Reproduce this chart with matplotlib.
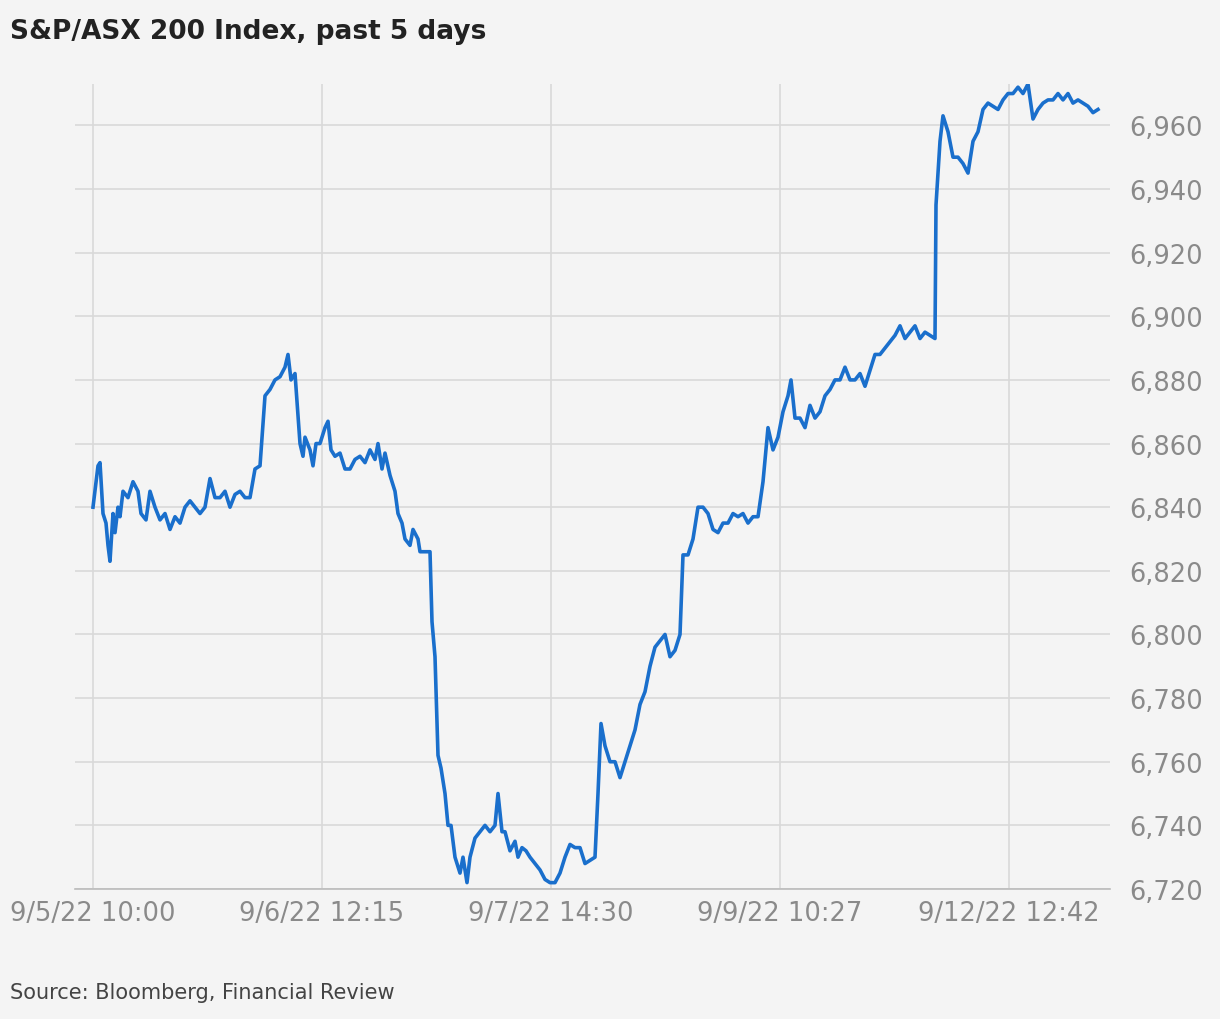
import matplotlib.pyplot as plt

# elapsed time units (one trading-day tick = 229 units) and index level
t = [0, 5, 7, 10, 13, 15, 17, 20, 22, 25, 27, 30, 35, 40, 45, 48, 53, 57, 62, 67, 72, 77, 82, 87,
     92, 97, 102, 107, 112, 117, 122, 127, 132, 137, 142, 147, 152, 157, 162, 167, 172, 177, 182,
     187, 192, 195, 198, 202, 207, 210, 212, 217, 220, 223, 227, 232, 235, 238, 242, 247, 252,
     257, 262, 267, 272, 277, 282, 285, 289, 292, 297, 302, 305, 309, 312, 317, 320, 325, 327,
     332, 337, 339, 342, 345, 348, 352, 355, 358, 362, 367, 370, 374, 377, 382, 387, 392, 397,
     402, 405, 409, 412, 417, 422, 425, 429, 433, 437, 442, 447, 452, 457, 462, 467, 472, 477,
     482, 487, 492, 497, 502, 505, 508, 512, 517, 522, 527, 532, 537, 542, 547, 552, 557, 562,
     567, 572, 577, 582, 587, 590, 595, 600, 605, 610, 615, 620, 625, 630, 635, 640, 645, 650,
     655, 660, 665, 670, 675, 680, 685, 690, 695, 698, 702, 707, 712, 717, 722, 727, 732, 737,
     742, 747, 752, 757, 762, 767, 772, 777, 782, 787, 792, 797, 802, 807, 812, 817, 822, 827,
     832, 837, 842, 843, 847, 850, 855, 860, 865, 870, 875, 880, 885, 890, 895, 900, 905, 910,
     915, 920, 925, 930, 935, 940, 945, 950, 955, 960, 965, 970, 975, 980, 985, 990, 995, 1000,
     1005, 1012]
level = [6840, 6853, 6854, 6838, 6835, 6828, 6823, 6838, 6832, 6840, 6837, 6845, 6843, 6848,
         6845, 6838, 6836, 6845, 6840, 6836, 6838, 6833, 6837, 6835, 6840, 6842, 6840, 6838,
         6840, 6849, 6843, 6843, 6845, 6840, 6844, 6845, 6843, 6843, 6852, 6853, 6875, 6877,
         6880, 6881, 6884, 6888, 6880, 6882, 6860, 6856, 6862, 6858, 6853, 6860, 6860, 6865,
         6867, 6858, 6856, 6857, 6852, 6852, 6855, 6856, 6854, 6858, 6855, 6860, 6852, 6857,
         6850, 6845, 6838, 6835, 6830, 6828, 6833, 6830, 6826, 6826, 6826, 6804, 6793, 6762,
         6758, 6750, 6740, 6740, 6730, 6725, 6730, 6722, 6730, 6736, 6738, 6740, 6738, 6740,
         6750, 6738, 6738, 6732, 6735, 6730, 6733, 6732, 6730, 6728, 6726, 6723, 6722, 6722,
         6725, 6730, 6734, 6733, 6733, 6728, 6729, 6730, 6750, 6772, 6765, 6760, 6760, 6755,
         6760, 6765, 6770, 6778, 6782, 6790, 6796, 6798, 6800, 6793, 6795, 6800, 6825, 6825,
         6830, 6840, 6840, 6838, 6833, 6832, 6835, 6835, 6838, 6837, 6838, 6835, 6837, 6837,
         6848, 6865, 6858, 6862, 6870, 6875, 6880, 6868, 6868, 6865, 6872, 6868, 6870, 6875,
         6877, 6880, 6880, 6884, 6880, 6880, 6882, 6878, 6883, 6888, 6888, 6890, 6892, 6894,
         6897, 6893, 6895, 6897, 6893, 6895, 6894, 6893, 6935, 6955, 6963, 6958, 6950, 6950,
         6948, 6945, 6955, 6958, 6965, 6967, 6966, 6965, 6968, 6970, 6970, 6972, 6970, 6973,
         6962, 6965, 6967, 6968, 6968, 6970, 6968, 6970, 6967, 6968, 6967, 6966, 6964, 6965]
tick_pos = [0, 229, 458, 687, 916]
tick_labels = ["9/5/22 10:00", "9/6/22 12:15", "9/7/22 14:30", "9/9/22 10:27", "9/12/22 12:42"]
y_ticks = list(range(6720, 6961, 20))

bg = "#f4f4f4"
fig = plt.figure(figsize=(12.2, 10.2), dpi=100, facecolor=bg)
ax = fig.add_axes([75 / 1220, 130 / 1020, 1035 / 1220, 805 / 1020], facecolor=bg)

ax.plot(t[:len(level)], level, color="#1a6fcc", lw=2.6, zorder=3)

ax.set_xlim(-18, 1017)
ax.set_ylim(6720, 6973)
ax.set_xticks(tick_pos)
ax.set_xticklabels(tick_labels)
ax.set_yticks(y_ticks)
ax.set_yticklabels([f"{v:,}" for v in y_ticks])
ax.yaxis.tick_right()
ax.tick_params(axis="both", length=0, labelsize=18.5, colors="#8a8a8a")
ax.tick_params(axis="y", pad=14)
ax.tick_params(axis="x", pad=8)
ax.grid(True, color="#d9d9d9", lw=1.2)
for s in ["top", "left", "right"]:
    ax.spines[s].set_visible(False)
ax.spines["bottom"].set_color("#bbbbbb")
ax.spines["bottom"].set_linewidth(1.2)

fig.text(10 / 1220, 1 - 32 / 1020, "S&P/ASX 200 Index, past 5 days", fontsize=19,
         fontweight="bold", color="#222222", va="center")
fig.text(10 / 1220, 1 - 993 / 1020, "Source: Bloomberg, Financial Review", fontsize=15,
         color="#444444", va="center")

fig.savefig("out.png", dpi=100, facecolor=bg)
